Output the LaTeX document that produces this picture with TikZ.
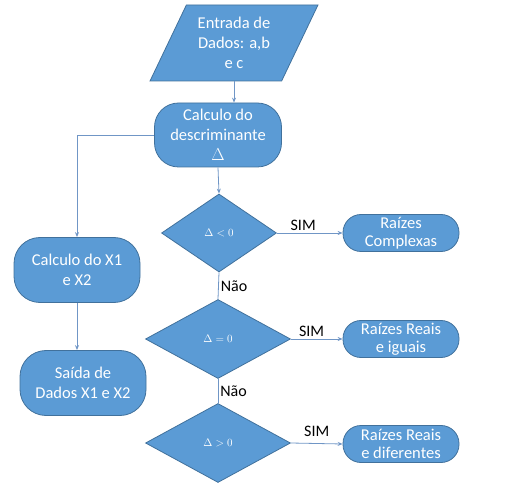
\documentclass[tikz,border=0pt]{standalone}
\usepackage{amsmath}
\usepackage{fontspec}
\setmainfont{Carlito}
\usepackage{tikz}
\usetikzlibrary{shapes.geometric, arrows.meta, positioning}
\definecolor{boxblue}{RGB}{91,155,213}
\definecolor{boxedge}{RGB}{65,113,156}
\definecolor{lineblue}{RGB}{112,150,198}
\tikzstyle{arrow} = [lineblue, line width=0.8pt, -{Stealth[length=5pt,width=4pt]}]

\begin{document}
\begin{tikzpicture}[x=1pt,y=-1pt]
    \tikzstyle{base}=[draw=boxedge, fill=boxblue, text=white, line width=0.8pt, align=center, font=\fontsize{16.5}{20}\selectfont, inner sep=1pt]
    \tikzstyle{io}=[base, trapezium, trapezium left angle=62, trapezium right angle=118, trapezium stretches=true, minimum width=168pt, minimum height=76pt]
    \tikzstyle{process}=[base, rectangle, rounded corners=24pt, minimum width=127pt, minimum height=64pt]
    \tikzstyle{decision}=[base, diamond, minimum width=145pt, minimum height=79pt, font=\fontsize{11}{13}\selectfont]
    \tikzstyle{result}=[base, rectangle, rounded corners=18pt, minimum width=116pt, minimum height=37pt, font=\fontsize{16.5}{18.5}\selectfont]
    \tikzstyle{answer}=[text=black, font=\fontsize{16}{18}\selectfont, inner sep=2pt]

    \useasboundingbox (0,0) rectangle (517,497);

    \node[io] (input) at (234,43) {Entrada de\\Dados: a,b\\e c};
    \node[process] (delta) at (218,135) {Calculo do\\descriminante\\$\Delta$};

    \node[decision, minimum width=115pt, minimum height=78pt] (neg) at (219,233) {$\Delta < 0$};
    \node[decision] (zero) at (218,339) {$\Delta = 0$};
    \node[decision] (pos) at (218,443) {$\Delta > 0$};

    \node[result] (complex) at (401,233) {Raízes\\Complexas};
    \node[result] (equal) at (401,339) {Raízes Reais\\e iguais};
    \node[result] (distinct) at (401,444) {Raízes Reais\\e diferentes};

    \node[process, rounded corners=26pt, minimum height=65pt, minimum width=126pt] (roots) at (77,270) {Calculo do X1\\e X2};
    \node[process, rounded corners=26pt, minimum height=65pt, minimum width=126pt] (output) at (83,383) {Saída de\\Dados X1 e X2};

    \draw[arrow] (input.south) -- (input.south |- delta.north);
    \draw[arrow] (delta.south) -- (neg.north);
    \draw[arrow] (delta.west) -| (roots.north);
    \draw[arrow] (roots.south) -- (roots.south |- output.north);

    \draw[arrow] (neg.east) -- node[answer, above, pos=0.4] {SIM} (complex.west);
    \draw[arrow] (zero.east) -- node[answer, above, pos=0.4] {SIM} (equal.west);
    \draw[arrow] (pos.east) -- node[answer, above=4pt, pos=0.5] {SIM} (distinct.west);

    \draw[lineblue, line width=0.8pt] (neg.south) -- node[answer, right] {Não} (zero.north);
    \draw[lineblue, line width=0.8pt] (zero.south) -- node[answer, right] {Não} (pos.north);
\end{tikzpicture}
\end{document}
